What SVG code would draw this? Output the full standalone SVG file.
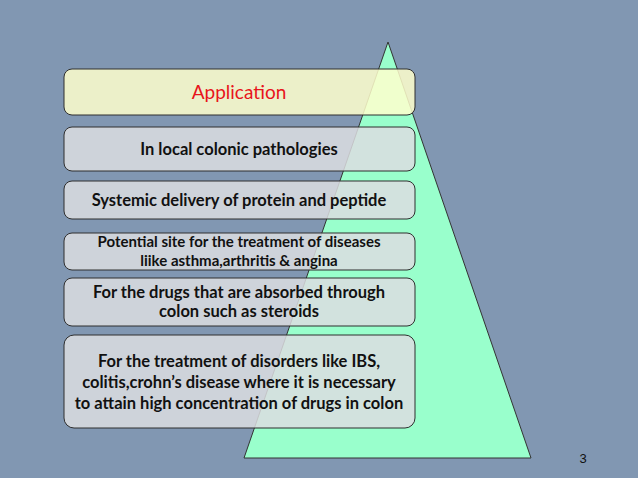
<svg xmlns="http://www.w3.org/2000/svg" width="638" height="478" viewBox="0 0 638 478">
<style>
.b{fill:#dcdde0;fill-opacity:0.85;stroke:#2f2f2f;stroke-width:1}
.t{font-family:Lato,"Liberation Sans",sans-serif;font-weight:bold;font-size:16.5px;fill:#111;text-anchor:middle}
.s{font-size:15px}
</style>
<rect width="638" height="478" fill="#8197b2"/>
<polygon id="pyramid" points="388,42 244,458 531,458" fill="#99ffcc" stroke="#333" stroke-width="1"/>
<g id="n1"><rect x="64" y="69" width="351" height="46" rx="8" fill="#ffffcc" fill-opacity="0.85" stroke="#2f2f2f"/><text x="239" y="99" font-family="Lato,'Liberation Sans',sans-serif" font-size="19" fill="#e8141b" text-anchor="middle">Application</text></g>
<g id="n2"><rect class="b" x="64" y="127" width="351" height="44" rx="8"/><text class="t" x="239" y="155">In local colonic pathologies</text></g>
<g id="n3"><rect class="b" x="64" y="181" width="351" height="38" rx="8"/><text class="t" x="239" y="206">Systemic delivery of protein and peptide</text></g>
<g id="n4"><rect class="b" x="64" y="233" width="351" height="37" rx="8"/><text class="t s" x="239" y="247">Potential site for the treatment of diseases</text><text class="t s" x="239" y="266">liike asthma,arthritis &amp; angina</text></g>
<g id="n5"><rect class="b" x="64" y="278" width="351" height="48" rx="8"/><text class="t" x="239" y="298">For the drugs that are absorbed through</text><text class="t" x="239" y="317">colon such as steroids</text></g>
<g id="n6"><rect class="b" x="64" y="335" width="351" height="93" rx="10"/><text class="t" x="239" y="367">For the treatment of disorders like IBS,</text><text class="t" x="239" y="388">colitis,crohn’s disease where it is necessary</text><text class="t" x="239" y="409">to attain high concentration of drugs in colon</text></g>
<g id="connectors"></g>
<text x="583" y="463" font-family="'Liberation Sans',sans-serif" font-size="13" fill="#111" text-anchor="middle">3</text>
</svg>
